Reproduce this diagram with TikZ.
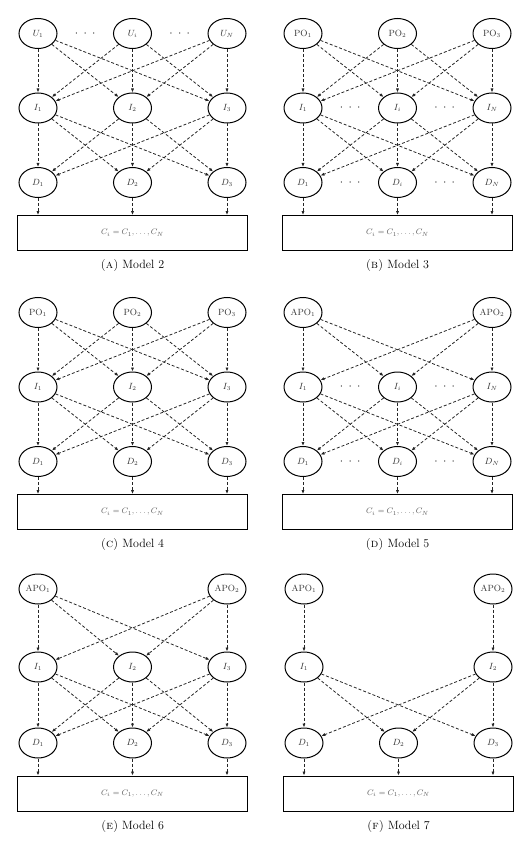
\documentclass[tikz,border=0pt]{standalone}
\usepackage{fontspec}
\usepackage{amsmath}
\usetikzlibrary{shapes.geometric,positioning,calc,arrows.meta}

\begin{document}
\begin{tikzpicture}[
    x=1pt,y=-1pt,
    node distance=74.5pt and 94.5pt, on grid,
    var/.style={ellipse,draw,line width=1pt,inner sep=0pt,minimum width=38pt,minimum height=30pt,font=\small,text=black!80},
    sumbox/.style={rectangle,draw,line width=0.9pt,minimum width=229.5pt,minimum height=35pt,font=\footnotesize,text=black!65},
    dep/.style={-{Latex[length=4pt,width=3.2pt]},dash pattern=on 3pt off 2pt,line width=0.8pt,draw=black!85},
    gapdots/.style={font=\large,text=black!85},
    subcap/.style={font=\fontsize{12}{14}\selectfont}
    ]
    \useasboundingbox (0,0) rectangle (530,842);

    % (a) Model 2
    \begin{scope}[shift={(38,108)},name prefix=a-]
        \node [var](I1) {$I_1$};
        \node [var](I2) [right=of I1] {$I_2$};
        \node [var](I3) [right=of I2] {$I_3$};
        \node [var](U1) [above=of I1] {$U_1$};
        \node [var](Ui) [above=of I2] {$U_i$};
        \node [var](UN) [above=of I3] {$U_N$};
        \node [var](D1) [below=of I1] {$D_1$};
        \node [var](D2) [below=of I2] {$D_2$};
        \node [var](D3) [below=of I3] {$D_3$};
        \node [sumbox](box) [below=50.5pt of D2] {$C_i = C_1,\dots,C_N$};
        \node [subcap](lbl) [below=32.5pt of box] {\textsc{(a)} Model 2};
        \node [gapdots](dt1) at ($(U1)!0.5!(Ui)$) {${\cdot}\mkern8mu{\cdot}\mkern8mu{\cdot}$};
        \node [gapdots](dt2) at ($(Ui)!0.5!(UN)$) {${\cdot}\mkern8mu{\cdot}\mkern8mu{\cdot}$};
        \draw [dep] (U1) edge (I1) edge (I2) edge (I3);
        \draw [dep] (Ui) edge (I1) edge (I2) edge (I3);
        \draw [dep] (UN) edge (I1) edge (I2) edge (I3);
        \draw [dep] (I1) edge (D1) edge (D2) edge (D3);
        \draw [dep] (I2) edge (D1) edge (D2) edge (D3);
        \draw [dep] (I3) edge (D1) edge (D2) edge (D3);
        \draw [dep] (D1) edge (D1 |- box.north) (D2) edge (D2 |- box.north) (D3) edge (D3 |- box.north);
    \end{scope}

    % (b) Model 3
    \begin{scope}[shift={(303,108)},name prefix=b-]
        \node [var](I1) {$I_1$};
        \node [var](Ii) [right=of I1] {$I_i$};
        \node [var](IN) [right=of Ii] {$I_N$};
        \node [var](P1) [above=of I1] {$\mathrm{PO}_1$};
        \node [var](P2) [above=of Ii] {$\mathrm{PO}_2$};
        \node [var](P3) [above=of IN] {$\mathrm{PO}_3$};
        \node [var](D1) [below=of I1] {$D_1$};
        \node [var](Di) [below=of Ii] {$D_i$};
        \node [var](DN) [below=of IN] {$D_N$};
        \node [sumbox](box) [below=50.5pt of Di] {$C_i = C_1,\dots,C_N$};
        \node [subcap](lbl) [below=32.5pt of box] {\textsc{(b)} Model 3};
        \node [gapdots](dt1) at ($(I1)!0.5!(Ii)$) {${\cdot}\mkern8mu{\cdot}\mkern8mu{\cdot}$};
        \node [gapdots](dt2) at ($(Ii)!0.5!(IN)$) {${\cdot}\mkern8mu{\cdot}\mkern8mu{\cdot}$};
        \node [gapdots](dt3) at ($(D1)!0.5!(Di)$) {${\cdot}\mkern8mu{\cdot}\mkern8mu{\cdot}$};
        \node [gapdots](dt4) at ($(Di)!0.5!(DN)$) {${\cdot}\mkern8mu{\cdot}\mkern8mu{\cdot}$};
        \draw [dep] (P1) edge (I1) edge (Ii) edge (IN);
        \draw [dep] (P2) edge (I1) edge (Ii) edge (IN);
        \draw [dep] (P3) edge (I1) edge (Ii) edge (IN);
        \draw [dep] (I1) edge (D1) edge (Di) edge (DN);
        \draw [dep] (Ii) edge (D1) edge (Di) edge (DN);
        \draw [dep] (IN) edge (D1) edge (Di) edge (DN);
        \draw [dep] (D1) edge (D1 |- box.north) (Di) edge (Di |- box.north) (DN) edge (DN |- box.north);
    \end{scope}

    % (c) Model 4
    \begin{scope}[shift={(38,387)},name prefix=c-]
        \node [var](I1) {$I_1$};
        \node [var](I2) [right=of I1] {$I_2$};
        \node [var](I3) [right=of I2] {$I_3$};
        \node [var](P1) [above=of I1] {$\mathrm{PO}_1$};
        \node [var](P2) [above=of I2] {$\mathrm{PO}_2$};
        \node [var](P3) [above=of I3] {$\mathrm{PO}_3$};
        \node [var](D1) [below=of I1] {$D_1$};
        \node [var](D2) [below=of I2] {$D_2$};
        \node [var](D3) [below=of I3] {$D_3$};
        \node [sumbox](box) [below=50.5pt of D2] {$C_i = C_1,\dots,C_N$};
        \node [subcap](lbl) [below=32.5pt of box] {\textsc{(c)} Model 4};
        \draw [dep] (P1) edge (I1) edge (I2) edge (I3);
        \draw [dep] (P2) edge (I1) edge (I2) edge (I3);
        \draw [dep] (P3) edge (I1) edge (I2) edge (I3);
        \draw [dep] (I1) edge (D1) edge (D2) edge (D3);
        \draw [dep] (I2) edge (D1) edge (D2) edge (D3);
        \draw [dep] (I3) edge (D1) edge (D2) edge (D3);
        \draw [dep] (D1) edge (D1 |- box.north) (D2) edge (D2 |- box.north) (D3) edge (D3 |- box.north);
    \end{scope}

    % (d) Model 5
    \begin{scope}[shift={(303,387)},name prefix=d-]
        \node [var](I1) {$I_1$};
        \node [var](Ii) [right=of I1] {$I_i$};
        \node [var](IN) [right=of Ii] {$I_N$};
        \node [var](A1) [above=of I1] {$\mathrm{APO}_1$};
        \node [var](A2) [above=of IN] {$\mathrm{APO}_2$};
        \node [var](D1) [below=of I1] {$D_1$};
        \node [var](Di) [below=of Ii] {$D_i$};
        \node [var](DN) [below=of IN] {$D_N$};
        \node [sumbox](box) [below=50.5pt of Di] {$C_i = C_1,\dots,C_N$};
        \node [subcap](lbl) [below=32.5pt of box] {\textsc{(d)} Model 5};
        \node [gapdots](dt1) at ($(I1)!0.5!(Ii)$) {${\cdot}\mkern8mu{\cdot}\mkern8mu{\cdot}$};
        \node [gapdots](dt2) at ($(Ii)!0.5!(IN)$) {${\cdot}\mkern8mu{\cdot}\mkern8mu{\cdot}$};
        \node [gapdots](dt3) at ($(D1)!0.5!(Di)$) {${\cdot}\mkern8mu{\cdot}\mkern8mu{\cdot}$};
        \node [gapdots](dt4) at ($(Di)!0.5!(DN)$) {${\cdot}\mkern8mu{\cdot}\mkern8mu{\cdot}$};
        \draw [dep] (A1) edge (I1) edge (Ii) edge (IN);
        \draw [dep] (A2) edge (I1) edge (Ii) edge (IN);
        \draw [dep] (I1) edge (D1) edge (Di) edge (DN);
        \draw [dep] (Ii) edge (D1) edge (Di) edge (DN);
        \draw [dep] (IN) edge (D1) edge (Di) edge (DN);
        \draw [dep] (D1) edge (D1 |- box.north) (Di) edge (Di |- box.north) (DN) edge (DN |- box.north);
    \end{scope}

    % (e) Model 6
    \begin{scope}[shift={(38,667)},name prefix=e-]
        \node [var](I1) {$I_1$};
        \node [var](I2) [right=of I1] {$I_2$};
        \node [var](I3) [right=of I2] {$I_3$};
        \node [var](A1) [above=78pt of I1] {$\mathrm{APO}_1$};
        \node [var](A2) [above=78pt of I3] {$\mathrm{APO}_2$};
        \node [var](D1) [below=76pt of I1] {$D_1$};
        \node [var](D2) [below=76pt of I2] {$D_2$};
        \node [var](D3) [below=76pt of I3] {$D_3$};
        \node [sumbox](box) [below=50.5pt of D2] {$C_i = C_1,\dots,C_N$};
        \node [subcap](lbl) [below=32.5pt of box] {\textsc{(e)} Model 6};
        \draw [dep] (A1) edge (I1) edge (I2) edge (I3);
        \draw [dep] (A2) edge (I1) edge (I2) edge (I3);
        \draw [dep] (I1) edge (D1) edge (D2) edge (D3);
        \draw [dep] (I2) edge (D1) edge (D2) edge (D3);
        \draw [dep] (I3) edge (D1) edge (D2) edge (D3);
        \draw [dep] (D1) edge (D1 |- box.north) (D2) edge (D2 |- box.north) (D3) edge (D3 |- box.north);
    \end{scope}

    % (f) Model 7
    \begin{scope}[shift={(304,667)},name prefix=f-]
        \node [var](I1) {$I_1$};
        \node [var](I2) [right=189pt of I1] {$I_2$};
        \node [var](A1) [above=78pt of I1] {$\mathrm{APO}_1$};
        \node [var](A2) [above=78pt of I2] {$\mathrm{APO}_2$};
        \node [var](D1) [below=76pt of I1] {$D_1$};
        \node [var](D2) [right=of D1] {$D_2$};
        \node [var](D3) [right=of D2] {$D_3$};
        \node [sumbox](box) [below=50.5pt of D2] {$C_i = C_1,\dots,C_N$};
        \node [subcap](lbl) [below=32.5pt of box] {\textsc{(f)} Model 7};
        \draw [dep] (A1) edge (I1);
        \draw [dep] (A2) edge (I2);
        \draw [dep] (I1) edge (D1) edge (D2) edge (D3);
        \draw [dep] (I2) edge (D1) edge (D2) edge (D3);
        \draw [dep] (D1) edge (D1 |- box.north) (D2) edge (D2 |- box.north) (D3) edge (D3 |- box.north);
    \end{scope}
\end{tikzpicture}
\end{document}
